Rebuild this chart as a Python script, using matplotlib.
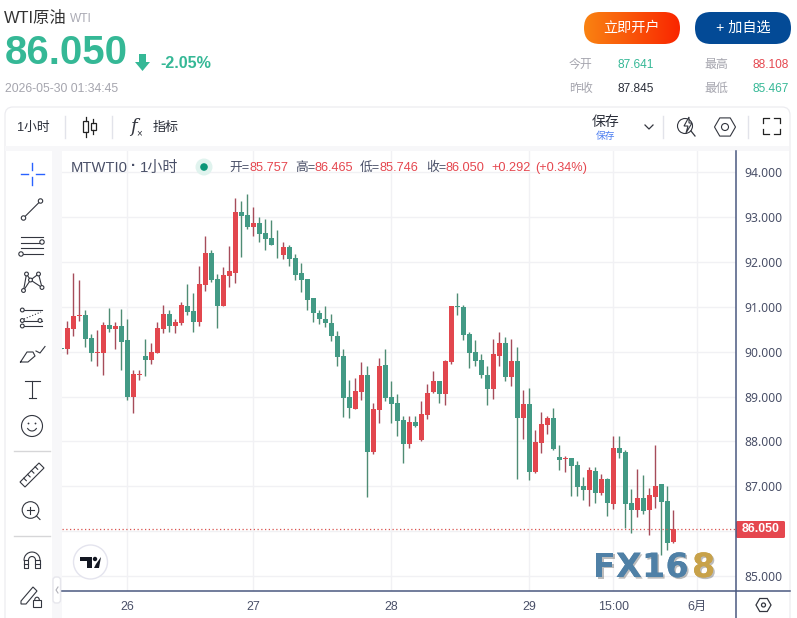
import matplotlib
matplotlib.use("Agg")
import matplotlib.pyplot as plt
import matplotlib.patheffects as pe
import numpy as np
from matplotlib.patches import Circle, FancyBboxPatch, Polygon, Rectangle

plt.rcParams['font.family'] = ['Liberation Sans', 'Noto Sans CJK SC', 'DejaVu Sans']

# hourly candles
opens = [90.09, 90.06, 90.50, 90.80, 90.82, 90.30, 89.97, 89.97, 90.59, 90.50,
         90.57, 90.26, 88.99, 89.48, 89.90, 89.81, 89.97, 90.50, 90.84, 90.57,
         90.64, 91.02, 90.91, 90.66, 91.49, 92.20, 91.62, 91.02, 91.69, 91.76,
         93.12, 93.05, 92.78, 92.87, 92.65, 92.53, 92.39, 92.15, 92.33, 92.08,
         91.75, 91.63, 91.19, 90.87, 90.74, 90.65, 90.36, 89.91, 89.00, 88.73,
         89.11, 89.47, 87.77, 88.71, 89.71, 89.00, 88.86, 88.48, 87.95, 88.44,
         88.04, 88.59, 89.11, 89.35, 89.06, 89.78, 91.01, 90.99, 90.40, 90.00,
         89.82, 89.49, 89.18, 89.91, 90.20, 89.44, 89.80, 88.53, 88.84, 87.32,
         87.97, 88.37, 88.53, 87.66, 87.61, 87.62, 87.48, 87.01, 86.92, 87.35,
         86.86, 87.17, 86.61, 87.86, 87.77, 86.63, 86.48, 86.75, 86.48, 86.77,
         87.04, 86.68, 85.757]
highs = [90.09, 90.68, 91.76, 91.60, 90.93, 90.39, 90.48, 90.66, 90.97, 90.66,
         90.95, 90.73, 89.59, 89.59, 90.28, 90.19, 90.66, 91.04, 90.93, 90.73,
         91.11, 91.51, 91.31, 91.91, 92.58, 92.27, 91.73, 91.89, 92.36, 93.43,
         93.37, 93.52, 93.23, 93.01, 92.96, 92.93, 92.71, 92.44, 92.37, 92.17,
         91.97, 91.63, 91.19, 90.92, 91.01, 90.85, 90.47, 90.07, 89.38, 89.42,
         89.76, 89.69, 88.86, 89.87, 90.07, 89.35, 89.06, 88.57, 88.57, 88.57,
         88.91, 89.29, 89.56, 89.35, 89.82, 91.03, 91.32, 91.05, 90.45, 90.27,
         89.94, 89.69, 90.29, 90.45, 90.32, 90.29, 90.11, 89.15, 89.20, 88.26,
         88.66, 88.57, 88.75, 87.92, 87.68, 87.64, 87.57, 87.21, 87.44, 87.42,
         87.28, 87.19, 88.11, 88.13, 87.80, 86.95, 87.39, 87.26, 86.97, 87.91,
         87.04, 87.01, 86.465]
lows = [90.06, 89.95, 90.35, 90.68, 90.10, 89.79, 89.68, 89.48, 90.44, 90.06,
        89.59, 88.92, 88.63, 89.37, 89.45, 89.72, 89.97, 90.42, 90.44, 90.42,
        90.59, 90.82, 90.44, 90.57, 91.35, 91.56, 90.53, 91.02, 91.44, 91.53,
        92.11, 92.74, 92.58, 92.45, 92.27, 92.37, 92.08, 92.06, 91.90, 91.59,
        91.34, 90.94, 90.67, 90.61, 90.54, 90.23, 89.69, 88.55, 88.53, 88.73,
        88.93, 86.76, 87.72, 88.42, 88.91, 88.42, 88.12, 87.52, 87.86, 88.33,
        88.01, 88.51, 89.09, 88.86, 88.82, 89.73, 90.81, 90.27, 89.64, 89.69,
        89.42, 88.82, 88.95, 89.69, 89.35, 89.24, 87.16, 88.06, 87.14, 87.30,
        87.75, 88.17, 87.81, 87.37, 87.32, 86.79, 86.79, 86.70, 86.57, 86.63,
        86.81, 86.34, 86.50, 87.62, 86.07, 85.96, 86.32, 86.39, 85.92, 86.52,
        85.467, 85.58, 85.746]
closes = [90.06, 90.53, 90.80, 90.82, 90.28, 89.97, 89.99, 90.59, 90.50, 90.57,
          90.21, 88.99, 89.50, 89.50, 89.81, 89.99, 90.53, 90.84, 90.57, 90.66,
          91.04, 90.88, 90.66, 91.51, 92.20, 91.60, 91.02, 91.71, 91.80, 93.12,
          93.03, 92.78, 92.87, 92.63, 92.52, 92.37, 92.37, 92.33, 92.06, 91.72,
          91.61, 91.16, 90.87, 90.72, 90.63, 90.34, 89.89, 88.97, 88.75, 89.13,
          89.47, 87.77, 88.73, 89.69, 88.97, 88.84, 88.46, 87.95, 88.44, 88.35,
          88.62, 89.09, 89.35, 89.06, 89.80, 91.01, 90.99, 90.38, 89.98, 89.80,
          89.47, 89.18, 89.94, 90.20, 89.44, 89.80, 88.53, 88.84, 87.32, 87.99,
          88.39, 88.53, 87.83, 87.59, 87.63, 87.46, 86.99, 86.92, 87.37, 86.86,
          87.17, 86.63, 87.86, 87.75, 86.61, 86.48, 86.75, 86.45, 86.81, 87.01,
          86.66, 85.74, 86.050]

y_ticks = [85, 86, 87, 88, 89, 90, 91, 92, 93, 94]
x_tick_pos = [11, 32, 55, 78, 92, 106]
x_tick_labels = ['26', '27', '28', '29', '15:00', '6月']
last_price = 86.050
ohlc_labels = ['开=', '高=', '低=', '收=']
ohlc_values = ['85.757', '86.465', '85.746', '86.050']

RED = '#e2474e'
GREEN = '#439a85'
RED_WICK = '#a64c5a'
GREEN_WICK = '#4f8c74'
AXIS = '#4a5880'
GRID = '#f1f1f4'
INK = '#2a2e39'
ICON = '#33363f'
W, H = 797, 618

fig = plt.figure(figsize=(W / 100, H / 100), dpi=100, facecolor='white')


def px_axes(zorder):
    a = fig.add_axes([0, 0, 1, 1], zorder=zorder)
    a.set_xlim(0, W)
    a.set_ylim(H, 0)
    a.axis('off')
    return a


back = px_axes(0)
ax = fig.add_axes([62 / W, 1 - 591 / H, (736 - 62) / W, (591 - 151) / H], zorder=1)
ui = px_axes(2)

# page chrome behind the chart
back.add_patch(FancyBboxPatch((5, 107), 785, 560, boxstyle='round,pad=0,rounding_size=8',
                              fc='white', ec='#ececf0', lw=0.9))
back.add_patch(Rectangle((5.5, 146), 784, 5, fc='#f7f7f9', ec='none'))
back.add_patch(Rectangle((52, 146), 10, 480, fc='#f7f7f9', ec='none'))

# candles
idx = np.arange(len(opens))
o, h, l, c = [np.array(s) for s in (opens, highs, lows, closes)]
up = c >= o
ax.vlines(idx[up], l[up], h[up], color=RED_WICK, lw=1.0, zorder=3)
ax.vlines(idx[~up], l[~up], h[~up], color=GREEN_WICK, lw=1.0, zorder=3)
ax.bar(idx[up], np.abs(c - o)[up], bottom=np.minimum(o, c)[up], width=0.82, color=RED, lw=0, zorder=4)
ax.bar(idx[~up], np.abs(c - o)[~up], bottom=np.minimum(o, c)[~up], width=0.82, color=GREEN, lw=0, zorder=4)

ax.set_xlim((62 - 61.33) / 6, (736 - 61.33) / 6)
ax.set_ylim(85 - 15 / 44.86, 94 + 21.3 / 44.86)
ax.set_facecolor('none')
ax.grid(True, color=GRID, lw=1, zorder=0)
ax.set_axisbelow(True)
ax.axhline(last_price, color='#d9534f', lw=0.9, ls=(0, (1, 2)), zorder=5)

ax.yaxis.tick_right()
ax.set_yticks(y_ticks)
# the 86 label sits under the last price tag
ax.set_yticklabels(['' if v == 86 else '%.3f' % v for v in y_ticks], fontsize=8.7, color='#4a5068', family=['Noto Sans'])
ax.tick_params(axis='y', length=0, pad=6)
ax.set_xticks(x_tick_pos)
ax.set_xticklabels(x_tick_labels, fontsize=8.9, color='#4a5068')
ax.tick_params(axis='x', length=0, pad=7)
for name, sp in ax.spines.items():
    sp.set_visible(False)
ui.plot([736, 736], [151, 618], color=AXIS, lw=1.1)
ui.plot([62, 790], [591, 591], color=AXIS, lw=1.1)

# header
ui.text(4, 18, 'WTI原油', fontsize=11.8, color='#333', va='center')
ui.text(70, 19, 'WTI', fontsize=8.6, color='#aaaab4', va='center')
ui.text(5, 53, '86.050', fontsize=29, fontweight='bold', color='#35b896', va='center')
ui.add_patch(Polygon([(139, 54), (146, 54), (146, 62), (150, 62), (142.5, 71), (135, 62), (139, 62)], fc='#35b896', ec='none'))
ui.text(160, 63, '-2.05%', fontsize=11.6, fontweight='bold', color='#35b896', va='center')
ui.text(5, 89, '2026-05-30 01:34:45', fontsize=8.8, color='#a5a5ae', va='center')

# buttons
n = 96
grad = np.linspace(0, 1, n).reshape(1, -1)
cols = np.zeros((1, n, 3))
c0, c1 = np.array([249, 130, 18]) / 255, np.array([249, 38, 0]) / 255
cols[0, :, :] = c0 + (c1 - c0) * grad[0][:, None]
im = ui.imshow(cols, extent=(584, 680, 44, 12), aspect='auto', zorder=1)
btn = FancyBboxPatch((584, 12), 96, 32, boxstyle='round,pad=0,rounding_size=16', fc='none', ec='none', transform=ui.transData)
ui.add_patch(btn)
im.set_clip_path(btn)
ui.set_xlim(0, W)
ui.set_ylim(H, 0)
ui.text(632, 28, '立即开户', fontsize=10.2, color='white', ha='center', va='center', zorder=2)
ui.add_patch(FancyBboxPatch((695, 12), 96, 32, boxstyle='round,pad=0,rounding_size=16', fc='#034a96', ec='none'))
ui.text(743, 28, '+ 加自选', fontsize=10.2, color='white', ha='center', va='center')

for x, y, s, col in [(569, 65, '今开', '#a5a5ae'), (618, 65, '87.641', '#35b896'),
                     (704, 65, '最高', '#a5a5ae'), (753, 65, '88.108', '#e5474f'),
                     (569, 89, '昨收', '#a5a5ae'), (618, 89, '87.845', INK),
                     (704, 89, '最低', '#a5a5ae'), (753, 89, '85.467', '#35b896')]:
    ui.text(x, y, s, fontsize=8.6, color=col, va='center')

# top toolbar
ui.text(17, 127.5, '1小时', fontsize=9.2, color=INK, va='center')
for x in (65, 112, 663, 748):
    ui.plot([x, x], [116, 138], color='#e2e3ea', lw=1)
for x, t, b, wt, wb in [(86, 121, 132, 117, 137), (93.5, 123, 130, 119, 134)]:
    ui.add_patch(Rectangle((x - 2.5, t), 5, b - t, fc='white', ec='#222', lw=0.9))
    ui.plot([x, x], [wt, t], color='#222', lw=0.9)
    ui.plot([x, x], [b, wb], color='#222', lw=0.9)
ui.text(130, 127, 'f', fontsize=13, style='italic', family=['DejaVu Serif'], color=ICON, va='center')
ui.text(136, 133, '×', fontsize=7, color=ICON, va='center')
ui.text(153, 127.5, '指标', fontsize=9.4, color=INK, va='center')
ui.text(606, 122, '保存', fontsize=10, color=INK, ha='center', va='center')
ui.text(606, 136, '保存', fontsize=7, color='#4d7ff0', ha='center', va='center')
ui.plot([645, 649, 653], [125, 129, 125], color=ICON, lw=0.9)
ui.add_patch(Circle((685, 126), 7.5, fc='none', ec=ICON, lw=0.8))
ui.add_patch(Polygon([(689, 117), (684, 126), (688, 126), (686, 133), (692, 123), (689, 123)], fc='white', ec=ICON, lw=0.8))
ui.plot([691, 695], [131, 136], color=ICON, lw=0.9)
hexa = [(725 + 10.5 * np.cos(a), 127 + 10.5 * np.sin(a)) for a in np.deg2rad(np.arange(0, 360, 60))]
ui.add_patch(Polygon(hexa, fc='none', ec=ICON, lw=0.8))
ui.add_patch(Circle((725, 127), 3.5, fc='none', ec=ICON, lw=0.8))
for cx, cy, dx, dy in [(763, 118, 1, 1), (780, 118, -1, 1), (763, 134, 1, -1), (780, 134, -1, -1)]:
    ui.plot([cx + 6 * dx, cx, cx], [cy, cy, cy + 5 * dy], color='#222', lw=0.9)

# legend row
ui.text(71, 168, 'MTWTI0', fontsize=10.6, color='#4a5068', va='center')
ui.text(131, 166, '·', fontsize=11, fontweight='bold', color='#4a5068', va='center')
ui.text(140, 168, '1小时', fontsize=10.8, color='#4a5068', va='center')
ui.add_patch(Circle((204, 167), 8.5, fc='#e0f3ee', ec='none'))
ui.add_patch(Circle((204, 167), 3.8, fc='#0b9678', ec='none'))
for x0, x1, lab, val in zip([229, 295, 360, 426], [250, 315, 380, 446], ohlc_labels, ohlc_values):
    ui.text(x0, 168, lab, fontsize=9.2, color='#4a5068', va='center')
    ui.text(x1, 168, val, fontsize=9.2, color='#e5474f', va='center')
ui.text(491, 168, '+0.292', fontsize=9.2, color='#e5474f', va='center')
ui.text(535, 168, '(+0.34%)', fontsize=9.2, color='#e5474f', va='center')

# last price tag
ui.add_patch(FancyBboxPatch((736, 521), 49, 17, boxstyle='round,pad=0,rounding_size=1.5', fc='#e5474f', ec='none'))
ui.text(760.5, 529.5, '86.050', fontsize=8.8, fontweight='bold', color='white', ha='center', va='center', family=['Liberation Sans'])

# chart settings gear bottom right
hexb = [(763.5 + 7.5 * np.cos(a), 605 + 7.5 * np.sin(a)) for a in np.deg2rad(np.arange(0, 360, 60))]
ui.add_patch(Polygon(hexb, fc='none', ec=ICON, lw=0.9))
ui.add_patch(Circle((763.5, 605), 2, fc='none', ec=ICON, lw=0.9))

# TV badge
ui.add_patch(Circle((90.5, 562), 17, fc='white', ec='#e4e4ee', lw=1))
ui.add_patch(Polygon([(80, 557), (92, 557), (92, 568), (87, 568), (87, 561), (80, 561)], fc='#131722', ec='none'))
ui.add_patch(Circle((95, 559), 2.2, fc='#131722', ec='none'))
ui.add_patch(Polygon([(94, 568), (99, 568), (101, 557), (96, 564)], fc='#131722', ec='none'))

# FX168 watermark, letters spread out by hand
shadow = [pe.withSimplePatchShadow(offset=(1.2, -1.2), shadow_rgbFace=(0.25, 0.25, 0.25), alpha=0.35), pe.Normal()]
for x, s, col in zip([593, 616, 642, 665.5, 692], 'FX168', ['#4f80a6'] * 4 + ['#c8a24a']):
    ui.text(x, 577, s, fontsize=24, fontweight='bold', color=col, va='baseline', family=['DejaVu Sans'], path_effects=shadow)

# left drawing tools
ui.plot([32, 32], [163, 170], color='#2962ff', lw=1)
ui.plot([32, 32], [177, 185], color='#2962ff', lw=1)
ui.plot([21, 28], [174, 174], color='#2962ff', lw=1)
ui.plot([36, 44], [174, 174], color='#2962ff', lw=1)


def node(x, y, r=2.2):
    ui.add_patch(Circle((x, y), r, fc='white', ec=ICON, lw=0.8, zorder=4))


def seg(xs, ys, **kw):
    ui.plot(xs, ys, color=ICON, lw=kw.pop('lw', 0.8), zorder=3, **kw)


seg([23.5, 40.5], [218, 201])
node(23.5, 218)
node(40.5, 201)
for y in (236.5, 242.5, 248, 254):
    seg([21, 43], [y, y])
node(42, 242)
node(21, 254)
pts = [(23.5, 290.5), (26.5, 274), (30.5, 280), (38.5, 274), (42, 287.5)]
seg([p[0] for p in pts], [p[1] for p in pts])
seg([23.5, 30.5, 42], [290.5, 280, 287.5])
for p in pts:
    node(p[0], p[1], 1.9)
seg([22, 42], [310, 310])
seg([22, 42], [320.5, 320.5])
seg([22, 42], [326, 326])
seg([24, 41], [319, 312], ls=':')
node(22.3, 310, 1.9)
node(22.3, 320.5, 1.9)
node(40, 320.5, 1.9)
node(22.3, 326, 1.9)
seg([20.5, 27, 33, 35, 28, 20.5], [362, 352, 352, 356, 362, 362])
seg([36, 40, 45], [351, 353, 346.5])
seg([25, 40], [381, 381])
seg([32.5, 32.5], [381, 398])
seg([29, 36], [398, 398])
ui.add_patch(Circle((32, 426), 10.5, fc='none', ec=ICON, lw=0.8))
ui.add_patch(Circle((28.5, 423.5), 0.9, fc=ICON, ec='none'))
ui.add_patch(Circle((35.5, 423.5), 0.9, fc=ICON, ec='none'))
smile = np.deg2rad(np.arange(30, 151, 10))
seg(32 + 5 * np.cos(smile), 426 + 5 * np.sin(smile))
seg([14, 50], [450.5, 450.5], lw=1, alpha=0.2)
ui.add_patch(Polygon([(20, 482), (39, 463), (44, 468), (25, 487)], fc='none', ec=ICON, lw=0.8))
for t in np.arange(0.2, 1, 0.2):
    x0, y0 = 20 + 19 * t, 482 - 19 * t
    seg([x0, x0 + 2.5], [y0, y0 + 2.5])
ui.add_patch(Circle((30.5, 510), 8.3, fc='none', ec=ICON, lw=0.8))
seg([27, 34], [510, 510])
seg([30.5, 30.5], [506.5, 513.5])
seg([36.5, 40], [516, 519.5])
seg([14, 50], [535.5, 535.5], lw=1, alpha=0.2)
arch = np.deg2rad(np.arange(180, 361, 15))
seg(32 + 8 * np.cos(arch), 560 + 8 * np.sin(arch))
seg(32 + 3.5 * np.cos(arch), 560 + 3.5 * np.sin(arch))
seg([24, 24, 28.5, 28.5, 24], [560, 568, 568, 560, 560])
seg([35.5, 35.5, 40, 40, 35.5], [560, 568, 568, 560, 560])
seg([24, 28.5], [564, 564])
seg([35.5, 40], [564, 564])
ui.add_patch(Polygon([(21, 601), (33, 587), (37, 591), (26, 604), (21, 604)], fc='none', ec=ICON, lw=0.8))
ui.add_patch(Rectangle((33, 600), 8, 6.5, fc='white', ec=ICON, lw=0.8, zorder=4))
seg(37 + 2.3 * np.cos(arch), 600 + 2.8 * np.sin(arch))
ui.add_patch(FancyBboxPatch((53, 577), 7.5, 26, boxstyle='round,pad=0,rounding_size=3', fc='white', ec='#e6e6ec', lw=1))
ui.plot([58, 56, 58], [587, 590, 593], color='#b0b0b8', lw=0.8)

fig.savefig('out.png', dpi=100, facecolor='white')
